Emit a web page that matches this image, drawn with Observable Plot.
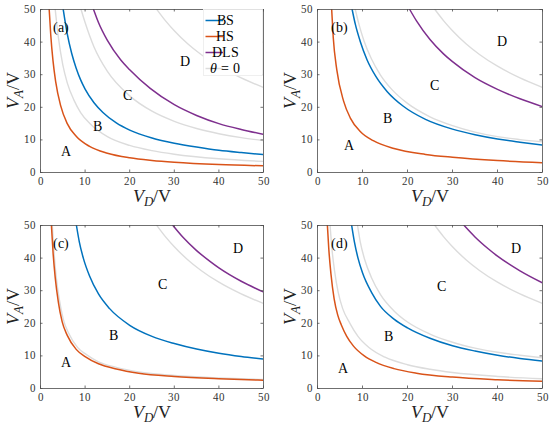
<!DOCTYPE html>
<html><head><meta charset="utf-8">
<script src="https://cdn.jsdelivr.net/npm/d3@7"></script>
<script src="https://cdn.jsdelivr.net/npm/@observablehq/plot@0.6"></script>
<style>
@font-face{font-family:"ChartSerif";font-style:normal;font-weight:400;src:local("Liberation Serif"),local("LiberationSerif"),local("LiberationSerif-Regular"),local("Tinos"),local("DejaVu Serif"),local("DejaVuSerif");}
@font-face{font-family:"ChartSerif";font-style:italic;font-weight:400;src:local("Liberation Serif Italic"),local("LiberationSerif-Italic"),local("Tinos Italic"),local("DejaVu Serif Italic"),local("DejaVuSerif-Italic");}
body{margin:0;background:#fff;}
#wrap{position:relative;width:550px;height:429px;overflow:hidden;}
#wrap svg{position:absolute;}
#wrap svg, #wrap svg text, #wrap svg tspan{font-family:ChartSerif, Liberation Serif, DejaVu Serif, Times, serif !important;}
</style></head><body><div id="wrap"></div>
<script>
const xTicks = [0, 10, 20, 30, 40, 50];
const yTicks = [0, 10, 20, 30, 40, 50];

// θ = 0 curves
const grayTop = [[26.1,50],[28,46.6],[30,43.5],[33,39.5],[36,36.2],[40,32.6],[45,29],[50,26.1]];
const grayA1 = [[3.3,50],[4,41.5],[5,33],[6,27.5],[7.5,22.2],[9,18.4],[11,15.1],[15,11],[20,8.3],[25,6.7],[30,5.6],[40,4.2],[50,3.4]];
const grayA2 = [[9.1,50],[10,46],[12,38.5],[15,31],[20,23.5],[25,18.8],[30,15.7],[35,13.5],[40,11.9],[45,10.7],[50,9.8]];
const grayB2 = [[8.4,50],[9.2,45.5],[10.3,40.5],[12,34.8],[14,29.9],[16.5,25.5],[20,21.2],[25,17.1],[30,14.4],[35,12.4],[40,11],[45,10.1],[50,9.4]];
const grayC1 = [[2.65,50],[3.0,42.5],[3.5,34.5],[4.2,27.5],[5.1,21.3],[6.3,17],[8.3,12.6],[10.3,10.4],[13,8.2],[17,6.5],[22,5.1],[30,4.0],[40,3.25],[50,2.75]];
const grayD1 = [[2.8,50],[3.2,43],[3.8,36],[4.6,29.5],[5.6,24.5],[7.2,20],[9,16],[11.5,12.5],[15,9.6],[20,7.3],[25,5.9],[30,4.9],[40,3.7],[50,3.0]];
const grayD2 = [[8.9,50],[9.5,45],[10.5,39.5],[12,34],[14,28.8],[17,23.8],[20,20.4],[25,16.7],[30,14.2],[35,12.4],[40,11.1],[45,10.2],[50,9.4]];

// (a)
const hsA  = [[1.95,50],[2.3,42.2],[2.8,34.3],[3.4,27.9],[4.5,20.6],[6,15],[8,11.1],[11,8],[15,5.9],[20,4.5],[25,3.7],[30,3.15],[40,2.45],[50,2.05]];
const bsA  = [[5.1,50],[6,42.5],[7,36.5],[8,32],[9,28.4],[10,25.6],[12,21.4],[14,18.4],[17,15.2],[20,13],[25,10.6],[30,9],[35,7.8],[40,6.8],[45,6.1],[50,5.5]];
const dlsA = [[11.9,50],[13,46],[15,40.5],[18,34.5],[20,31.5],[24.6,25.8],[30,20.8],[35,17.5],[40,15],[45,13.2],[50,11.7]];
const regA = [["A",5.7,6.3],["B",12.8,14],["C",19.6,23.5],["D",32.3,34]];

// (b)
const hsB  = [[3.15,50],[3.5,41.4],[4.3,31.4],[5.8,21.9],[7.3,16.7],[9.5,12.6],[12.4,9.76],[17,7.35],[24,5.55],[30,4.67],[40,3.65],[50,3.0]];
const bsB  = [[7.7,50],[8.4,45.5],[9.5,40.2],[11,34.6],[13,29.4],[15.5,24.8],[19,20.4],[24,16.3],[30,13.3],[35,11.6],[40,10.3],[45,9.3],[50,8.4]];
const dlsB = [[20.5,50],[22,46.5],[25,40.8],[28,36.4],[30,34],[35,29.1],[40,25.5],[45,22.6],[50,20.2]];
const regB = [["A",6.9,8.2],["B",15.6,16.4],["C",25.9,26.5],["D",41.1,40.1]];

// (c)
const hsC  = [[2.45,50],[2.8,42],[3.3,34],[4,26.5],[4.85,20.5],[6,16.3],[8,12],[10,9.8],[13,7.6],[17,6],[22,4.7],[30,3.7],[40,3.0],[50,2.55]];
const bsC  = [[8.06,50],[8.7,45],[9.6,40],[11,34.5],[13,29],[15.5,24.5],[20,19.4],[25,16],[30,13.8],[35,12.1],[40,10.8],[45,9.8],[50,9.0]];
const dlsC = [[29.7,50],[32,46.3],[35,42.3],[38,39],[40,37],[45,32.9],[50,29.6]];
const regC = [["A",5.8,7.9],["B",16.4,16.1],["C",27.4,31.8],["D",44.2,42.9]];

// (d)
const hsD  = [[2.2,50],[2.5,43],[3,35],[3.7,27.5],[4.5,22.5],[5.3,19.5],[6.5,16],[8,13],[10.4,10],[13,8],[17,6.1],[22,4.7],[30,3.5],[40,2.7],[50,2.2]];
const bsD  = [[7.6,50],[8.2,45],[9,40],[10,35.5],[12,29.5],[14,25.2],[17,21.3],[20,18.6],[25,15.4],[30,13.1],[35,11.5],[40,10.2],[45,9.2],[50,8.4]];
const dlsD = [[32.6,50],[35,46.5],[38,42.8],[40,40.6],[45,36.1],[50,32.4]];
const regD = [["A",5.6,6.1],["B",15.8,15.8],["C",27.6,31.1],["D",44.1,42.9]];

const tags = ["(a)", "(b)", "(c)", "(d)"];
const tagPos = [[4.5,44.5],[4.8,44.5],[4.5,44.4],[4.8,44.4]];

const seriesNames = ["BS", "HS", "DLS"];
const seriesColors = ["#0072BD", "#D95319", "#7E2F8E"];
const grayColor = "#dcdcdc";

const FONT = "ChartSerif, Liberation Serif, DejaVu Serif, Times, serif";

const panels = [
  {grays: [grayA1, grayA2, grayTop], hs: hsA, bs: bsA, dls: dlsA, reg: regA, left: 0,   top: 0,   ml: 40, mr: 12, mt: 9,  mb: 43},
  {grays: [grayB2, grayTop],         hs: hsB, bs: bsB, dls: dlsB, reg: regB, left: 275, top: 0,   ml: 42, mr: 8,  mt: 9,  mb: 43},
  {grays: [grayC1, grayTop],         hs: hsC, bs: bsC, dls: dlsC, reg: regC, left: 0,   top: 214, ml: 40, mr: 12, mt: 11, mb: 41},
  {grays: [grayD1, grayD2, grayTop], hs: hsD, bs: bsD, dls: dlsD, reg: regD, left: 275, top: 214, ml: 42, mr: 8,  mt: 11, mb: 41}
];

const wrap = document.getElementById("wrap");
const W = 275, H = 215;

panels.forEach((p, i) => {
  const pw = W - p.ml - p.mr, ph = H - p.mt - p.mb;
  const lineOpts = (stroke, sw) => ({x: d => d[0], y: d => d[1], stroke, strokeWidth: sw, curve: "monotone-x", clip: true});
  const svg = Plot.plot({
    width: W, height: H,
    marginLeft: p.ml, marginRight: p.mr, marginTop: p.mt, marginBottom: p.mb,
    x: {domain: [0, 50]},
    y: {domain: [0, 50]},
    style: {background: "transparent", overflow: "visible", fontFamily: FONT},
    marks: [
      ...p.grays.map(g => Plot.line(g, lineOpts(grayColor, 1.4))),
      Plot.line(p.hs, lineOpts(seriesColors[1], 1.5)),
      Plot.line(p.bs, lineOpts(seriesColors[0], 1.5)),
      Plot.line(p.dls, lineOpts(seriesColors[2], 1.5)),
      Plot.text(p.reg, {x: d => d[1], y: d => d[2], text: d => d[0], fontSize: 13.5, fill: "#000"}),
      Plot.text([tags[i]], {x: () => tagPos[i][0], y: () => tagPos[i][1], text: d => d, fontSize: 13.5, fill: "#000"}),
      Plot.frame({stroke: "#4d4d4d", strokeWidth: 0.8}),
      Plot.tickX(xTicks, {x: d => d, insetTop: ph - 2.5, stroke: "#4d4d4d", strokeWidth: 0.8}),
      Plot.tickX(xTicks, {x: d => d, insetBottom: ph - 2.5, stroke: "#4d4d4d", strokeWidth: 0.8}),
      Plot.tickY(yTicks, {y: d => d, insetRight: pw - 2.5, stroke: "#4d4d4d", strokeWidth: 0.8}),
      Plot.tickY(yTicks, {y: d => d, insetLeft: pw - 2.5, stroke: "#4d4d4d", strokeWidth: 0.8}),
      Plot.axisX(xTicks, {tickSize: 0, tickPadding: 5, fontSize: 11, label: null, color: "#333"}),
      Plot.axisY(yTicks, {tickSize: 0, tickPadding: 5, fontSize: 11, label: null, color: "#333"})
    ]
  });
  svg.style.left = p.left + "px";
  svg.style.top = p.top + "px";
  svg.setAttribute("font-family", FONT);
  wrap.appendChild(svg);

  const s = d3.select(svg);
  // x label
  const xl = s.append("text")
    .attr("x", p.ml + pw / 2)
    .attr("y", p.mt + ph + 30)
    .attr("text-anchor", "middle")
    .attr("font-size", 18).attr("fill", "#222");
  xl.append("tspan").attr("font-style", "italic").text("V");
  xl.append("tspan").attr("font-style", "italic").attr("font-size", 12.5).attr("dy", 4).text("D");
  xl.append("tspan").attr("dy", -4).text("/V");
  // y label
  const yl = s.append("text")
    .attr("transform", `translate(${p.ml - 21},${p.mt + ph / 2}) rotate(-90)`)
    .attr("text-anchor", "middle")
    .attr("font-size", 18).attr("fill", "#222");
  yl.append("tspan").attr("font-style", "italic").text("V");
  yl.append("tspan").attr("font-style", "italic").attr("font-size", 12.5).attr("dy", 4).text("A");
  yl.append("tspan").attr("dy", -4).text("/V");

  if (i === 0) {
    const lx = p.ml + pw - 59.5, ly = p.mt + 0.5;
    const g = s.append("g");
    g.append("rect").attr("x", lx).attr("y", ly).attr("width", 59).attr("height", 66)
      .attr("fill", "#fff").attr("stroke", "#ececec").attr("stroke-width", 0.8);
    const items = [
      {name: seriesNames[0], color: seriesColors[0]},
      {name: seriesNames[1], color: seriesColors[1]},
      {name: seriesNames[2], color: seriesColors[2]},
      {name: null, color: grayColor}
    ];
    items.forEach((it, k) => {
      const y = ly + 11 + k * 16;
      g.append("line").attr("x1", lx + 2).attr("x2", lx + 19.5).attr("y1", y).attr("y2", y)
        .attr("stroke", it.color).attr("stroke-width", 1.5);
      const t = g.append("text").attr("x", lx + 21.5).attr("y", y + 4.5)
        .attr("font-size", 13.5).attr("fill", "#000");
      if (it.name) t.text(it.name);
      else {
        t.append("tspan").attr("font-style", "italic").text("θ");
        t.append("tspan").text(" = 0");
      }
    });
  }
});
</script>
</body></html>
